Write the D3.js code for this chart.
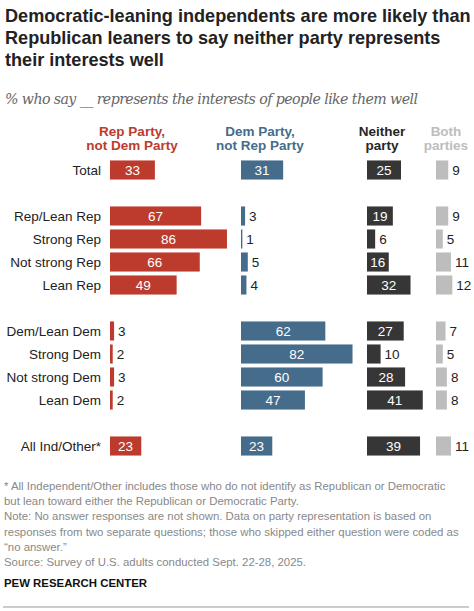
<!DOCTYPE html>
<html>
<head>
<meta charset="UTF-8">
<script src="https://d3js.org/d3.v7.min.js"></script>
<style>
  * { margin: 0; padding: 0; box-sizing: border-box; }
  body { background: #fff; font-family: "Liberation Sans", Arial, sans-serif; }
</style>
</head>
<body>
<div id="chart"></div>
<script>
const rows = ["Total", "g1", "Rep/Lean Rep", "Strong Rep", "Not strong Rep", "Lean Rep", "g2",
              "Dem/Lean Dem", "Strong Dem", "Not strong Dem", "Lean Dem", "g3", "All Ind/Other*"];
const labels = rows.filter(r => !r.startsWith("g"));
const repOnly = [33, 67, 86, 66, 49, 3, 2, 3, 2, 23];
const demOnly = [31, 3, 1, 5, 4, 62, 82, 60, 47, 23];
const neither = [25, 19, 6, 16, 32, 27, 10, 28, 41, 39];
const both    = [9, 9, 5, 11, 12, 7, 5, 8, 8, 11];

const series = [
  { head: ["Rep Party,", "not Dem Party"], vals: repOnly, x0: 110, hx: 132, color: "#bd3b2c", headColor: "#bd3b2c" },
  { head: ["Dem Party,", "not Rep Party"], vals: demOnly, x0: 241, hx: 260, color: "#466c8c", headColor: "#466c8c" },
  { head: ["Neither", "party"], vals: neither, x0: 367, hx: 382, color: "#363636", headColor: "#262626" },
  { head: ["Both", "parties"], vals: both, x0: 436, hx: 446, color: "#bdbdbd", headColor: "#bdbdbd" }
];

const W = 474, H = 611;
const svg = d3.select("#chart").append("svg").attr("width", W).attr("height", H);

// title
["Democratic-leaning independents are more likely than",
 "Republican leaners to say neither party represents",
 "their interests well"].forEach((t, i) => {
  svg.append("text").attr("x", 5).attr("y", 22 + i * 22)
    .attr("font-size", 18.1).attr("font-weight", "bold").attr("fill", "#222").text(t);
});
svg.append("text").attr("x", 5).attr("y", 104)
  .attr("font-size", 14.2).attr("font-style", "italic").attr("fill", "#666")
  .attr("font-family", "'DejaVu Serif', serif").attr("textLength", 413)
  .text("% who say __ represents the interests of people like them well");

const y = d3.scaleBand().domain(rows).range([158.5, 158.5 + rows.length * 23]).paddingInner(0.17).paddingOuter(0.085);
const x = d3.scaleLinear().domain([0, 1]).range([0, 1.36]);

// row labels
svg.selectAll(".lab").data(labels).join("text")
  .attr("x", 101).attr("y", d => y(d) + y.bandwidth() / 2 + 5)
  .attr("text-anchor", "end").attr("font-size", 13.5).attr("fill", "#222").text(d => d);

series.forEach(s => {
  s.head.forEach((h, i) => {
    svg.append("text").attr("x", s.hx)
      .attr("y", 136 + i * 14).attr("text-anchor", "middle")
      .attr("font-size", 13.5).attr("font-weight", "bold").attr("fill", s.headColor).text(h);
  });
  const g = svg.append("g");
  labels.forEach((lab, i) => {
    const v = s.vals[i], w = x(v);
    g.append("rect").attr("x", s.x0).attr("y", y(lab)).attr("width", w).attr("height", y.bandwidth()).attr("fill", s.color);
    const inside = v >= 15 && s.vals !== both;
    g.append("text")
      .attr("x", inside ? s.x0 + w / 2 : s.x0 + w + 4)
      .attr("y", y(lab) + y.bandwidth() / 2 + 5)
      .attr("text-anchor", inside ? "middle" : "start")
      .attr("font-size", 13.5).attr("fill", inside ? "#fff" : "#222").text(v);
  });
});

// footer
const notes = [
  "* All Independent/Other includes those who do not identify as Republican or Democratic",
  "but lean toward either the Republican or Democratic Party.",
  "Note: No answer responses are not shown. Data on party representation is based on",
  "responses from two separate questions; those who skipped either question were coded as",
  "\u201cno answer.\u201d",
  "Source: Survey of U.S. adults conducted Sept. 22-28, 2025."
];
notes.forEach((t, i) => {
  svg.append("text").attr("x", 4).attr("y", 490 + i * 15.2)
    .attr("font-size", 11.4).attr("fill", "#888").text(t);
});
svg.append("text").attr("x", 4).attr("y", 587).attr("font-size", 11.4).attr("font-weight", "bold")
  .attr("fill", "#111").text("PEW RESEARCH CENTER");
svg.append("line").attr("x1", 3).attr("x2", 469).attr("y1", 607).attr("y2", 607).attr("stroke", "#999");
</script>
</body>
</html>
